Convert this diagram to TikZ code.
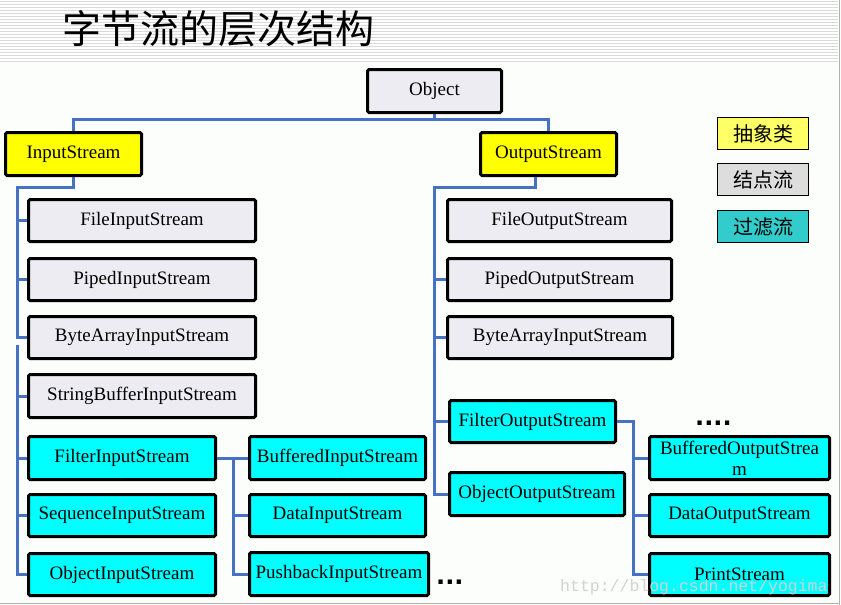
\documentclass[tikz,border=0pt]{standalone}
\usepackage{fontspec}
\setmainfont{Liberation Serif}
\newfontfamily\cjk{Noto Sans CJK SC}
\newfontfamily\wmfont{Liberation Mono}
\newfontfamily\dotfont{DejaVu Sans}
\definecolor{boxgrey}{RGB}{236,236,242}
\definecolor{boxyellow}{RGB}{255,255,0}
\definecolor{boxcyan}{RGB}{0,255,255}
\definecolor{legyellow}{RGB}{255,255,102}
\definecolor{leggrey}{RGB}{221,221,221}
\definecolor{legteal}{RGB}{51,204,204}
\definecolor{connblue}{RGB}{71,114,196}
\definecolor{stripecol}{RGB}{218,218,218}
\definecolor{bgcol}{RGB}{252,254,252}
\begin{document}
\begin{tikzpicture}[x=1pt,y=-1pt,
  cls/.style={draw=black, line width=3pt, rounded corners=1.5pt, inner sep=0pt,
    minimum height=43pt, font=\fontsize{19}{21}\selectfont},
  greybox/.style={cls, fill=boxgrey},
  yellowbox/.style={cls, fill=boxyellow},
  cyanbox/.style={cls, fill=boxcyan},
  legbox/.style={draw=black, line width=1pt, inner sep=0pt, minimum width=91pt,
    minimum height=32pt, font=\cjk\fontsize{20}{22}\selectfont},
  conn/.style={draw=connblue, line width=3pt},
  dots/.style={font=\dotfont\bfseries\fontsize{24}{24}\selectfont, inner sep=0pt, anchor=base west}
]
\useasboundingbox (0,0) rectangle (841,605);
\fill[bgcol] (0,0) rectangle (841,605);
\fill[white] (0,0) rectangle (838,62);
\foreach \i in {0,...,20} \draw[stripecol, line width=1pt] (0,{3*\i+1.5}) -- (838,{3*\i+1.5});
\draw[gray!60, line width=1.5pt] (839.5,0) -- (839.5,605);
\draw[gray!60, line width=1.5pt] (0,603.5) -- (839.5,603.5);

% title
\node[font=\cjk\fontsize{39}{39}\selectfont, inner sep=0pt] (title) at (218.5,29) {字节流的层次结构};

% nodes
\node[greybox, minimum width=134pt] (obj) at (434.5,91) {Object};
\node[yellowbox, minimum width=136pt] (instream) at (73.5,154) {InputStream};
\node[yellowbox, minimum width=136pt] (outstream) at (548.5,154) {OutputStream};

\node[greybox, minimum width=227pt, minimum height=42pt] (fileIn) at (142,220.5) {FileInputStream};
\node[greybox, minimum width=227pt, minimum height=42pt] (pipedIn) at (142,279.5) {PipedInputStream};
\node[greybox, minimum width=227pt, minimum height=42pt] (byteIn) at (142,337.5) {ByteArrayInputStream};
\node[greybox, minimum width=227pt] (strIn) at (142,396) {StringBufferInputStream};
\node[cyanbox, minimum width=187pt] (filterIn) at (122,458) {FilterInputStream};
\node[cyanbox, minimum width=187pt, minimum height=42pt] (seqIn) at (122,515.5) {SequenceInputStream};
\node[cyanbox, minimum width=187pt, minimum height=42pt] (objIn) at (122,574.5) {ObjectInputStream};
\node[cyanbox, minimum width=176pt] (bufIn) at (337.5,458) {BufferedInputStream};
\node[cyanbox, minimum width=176pt, minimum height=42pt] (dataIn) at (337.5,515.5) {DataInputStream};
\node[cyanbox, minimum width=179pt] (pushIn) at (339,574) {PushbackInputStream};

\node[greybox, minimum width=224pt, minimum height=42pt] (fileOut) at (559.5,220.5) {FileOutputStream};
\node[greybox, minimum width=224pt, minimum height=42pt] (pipedOut) at (559.5,279.5) {PipedOutputStream};
\node[greybox, minimum width=225pt, minimum height=42pt] (byteOut) at (560,337.5) {ByteArrayInputStream};
\node[cyanbox, minimum width=166pt, minimum height=42pt] (filterOut) at (532.5,421.5) {FilterOutputStream};
\node[cyanbox, minimum width=175pt] (objOut) at (537,494) {ObjectOutputStream};
\node[cyanbox, minimum width=180pt, align=center] (bufOut) at (739.5,458) {BufferedOutputStrea\\m};
\node[cyanbox, minimum width=180pt, minimum height=42pt] (dataOut) at (739.5,515.5) {DataOutputStream};
\node[cyanbox, minimum width=180pt, minimum height=42pt] (printS) at (739.5,574.5) {PrintStream};

% dots
\node[dots] (dots1) at (695,425) {....};
\node[dots] (dots2) at (436,584) {...};

% legend
\node[legbox, fill=legyellow] (leg1) at (763,133.5) {抽象类};
\node[legbox, fill=leggrey] (leg2) at (763,179.5) {结点流};
\node[legbox, fill=legteal] (leg3) at (763,226.5) {过滤流};

% connectors
\coordinate (b0) at (434.5,119);
\draw[conn] (obj.south) -- (b0);
\draw[conn] (instream.north) |- (b0) -| (outstream.north);

\coordinate (ib) at (17,187);
\draw[conn] (instream.south) |- (ib) |- (byteIn.west);
\draw[conn] (fileIn.west) -- (fileIn.west -| ib);
\draw[conn] (pipedIn.west) -- (pipedIn.west -| ib);
\coordinate (ib2) at (17,345);
\draw[conn] (ib2) |- (objIn.west);
\draw[conn] (strIn.west) -- (strIn.west -| ib2);
\draw[conn] (filterIn.west) -- (filterIn.west -| ib2);
\draw[conn] (seqIn.west) -- (seqIn.west -| ib2);

\coordinate (fb) at (233,458);
\draw[conn] (filterIn.east) -- (bufIn.west);
\draw[conn] (fb) |- (pushIn.west);
\draw[conn] (dataIn.west) -- (dataIn.west -| fb);

\coordinate (ob) at (434.5,187);
\draw[conn] ([xshift=-13.5pt]outstream.south) |- (ob) |- (objOut.west);
\draw[conn] (pipedOut.west) -- (pipedOut.west -| ob);
\draw[conn] (byteOut.west) -- (byteOut.west -| ob);
\draw[conn] (filterOut.west) -- (filterOut.west -| ob);

\coordinate (fob) at (633,421.5);
\draw[conn] (filterOut.east) -- (fob) |- (printS.west);
\draw[conn] (bufOut.west) -- (bufOut.west -| fob);
\draw[conn] (dataOut.west) -- (dataOut.west -| fob);

% watermark
\node[font=\wmfont\fontsize{16.5}{16.5}\selectfont, text=black!18, inner sep=0pt, anchor=base west] (wm) at (560,591) {http://blog.csdn.net/yogima};
\end{tikzpicture}
\end{document}
